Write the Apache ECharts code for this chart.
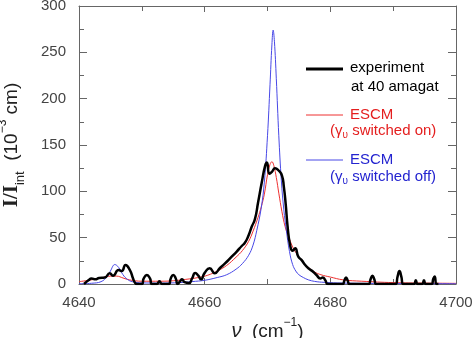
<!DOCTYPE html>
<html>
<head>
<meta charset="utf-8">
<script src="https://cdn.jsdelivr.net/npm/echarts@6/dist/echarts.min.js"></script>
<style>
html,body{margin:0;padding:0;background:#fff;}
#c{width:474px;height:338px;}
</style>
</head>
<body>
<div id="c"></div>
<script>
// ---- data ----
const xTicks = [4640, 4660, 4680, 4700];
const yTicks = [0, 50, 100, 150, 200, 250, 300];

const expNu = [4640.8,4641.5,4642.0,4642.6,4643.2,4644.1,4644.9,4645.4,4646.3,4646.8,4647.4,4648.1,4648.6,4648.9,4649.2,
  4650.0,4650.3,4650.8,4651.3,4651.6,4652.4,4652.8,4653.2,4654.3,4654.6,4655.0,4655.4,4655.7,4656.1,4656.4,4656.8,
  4657.5,4658.0,4658.5,4659.0,4659.4,4660.0,4660.8,4661.6,4662.4,4663.2,4664.3,4665.1,4665.9,4666.4,4666.9,4667.5,
  4668.0,4668.5,4669.1,4669.6,4669.9,4670.3,4670.7,4671.2,4671.7,4672.3,4672.6,4672.9,4673.2,4673.6,4674.0,4674.4,
  4674.9,4675.4,4676.0,4676.5,4677.3,4677.8,4678.4,4678.8,4679.2,4679.6,4682.0,4682.2,4682.5,4682.8,4683.0,4686.1,
  4686.4,4686.7,4687.0,4687.3,4690.4,4690.7,4691.0,4691.3,4691.6,4693.3,4693.6,4693.9,4694.6,4694.9,4695.2,4696.1,
  4696.4,4696.6,4696.9,4697.2];
const expI = [0,4,6,5,6.5,7,11.5,9,15,14,20.5,15,6,1.5,0,
  0,6,9.7,6,0,0,3,0,0,6,9.7,6,0,3,5,2,
  1,6,12,9,5,12,17,11.5,17,22,29.5,35,41,44.5,51,62,
  70,88,110,127,131,119,121,125,123,117,105,86,62,42,36,38.5,
  29.5,26,20.5,17,13,9.7,6,7,4,0,0,3,7,3,0,0,
  5,9,5,0,0,8,14,8,0,0,4,0,0,4,0,0,
  6,8,0,0];

const redNu = [4640,4642,4643.5,4645,4646,4647,4648,4650,4653,4655,4657,4659,4660.5,4662,4663.5,4665,4666,4667,
  4667.7,4668.5,4669,4669.5,4670,4670.4,4670.7,4671,4671.4,4671.8,4672.3,4672.8,4673.3,4674,4674.5,4675.5,4676.5,
  4677.5,4678.5,4680,4682,4685,4690,4695,4700];
const redI = [2.5,4.5,6.5,8.5,8.5,6.5,4.5,3,3,3.5,5,7,9.5,14,20,29,36,46,
  57,72,83,97,118,129,132,128,115,98,78,62,52,40,34,25,18,
  13,10,7.5,4.5,3,1.5,1,0.7];

const blueNu = [4640,4642,4643.5,4644.5,4645,4645.7,4646.3,4647,4647.7,4648.5,4650,4653,4656,4658,4660,4662,4663.5,
  4665,4666,4667,4667.7,4668.3,4669,4669.5,4670,4670.4,4670.7,4670.9,4671.1,4671.4,4671.8,4672.2,4672.6,4673,
  4673.5,4674,4674.5,4675,4675.7,4676.5,4677.5,4679,4682,4690,4700];
const blueI = [0.3,0.8,2.5,8,14,21,18,10,5,2.5,1.2,1.0,1.5,2.6,4,7,10,
  16,22,31,42,58,82,110,160,215,258,274,262,222,160,112,80,58,
  35,21,14,10,7,4.5,2.8,1.8,1.0,0.5,0.3];

const zip = (a, b) => a.map((v, i) => [v, b[i]]);

const AX = '#666';
const FONT = '"Liberation Sans", Arial, sans-serif';
const chart = echarts.init(document.getElementById('c'), null, {renderer: 'canvas'});

function xAx(pos, labels) {
  return {
    type: 'value', position: pos, min: xTicks[0], max: xTicks[xTicks.length - 1],
    interval: xTicks[1] - xTicks[0],
    axisLine: {show: true, onZero: false, lineStyle: {color: AX, width: 1}},
    axisTick: {show: true, inside: true, length: 6, lineStyle: {color: AX}},
    minorTick: {show: true, splitNumber: 2, length: 5, lineStyle: {color: AX}},
    splitLine: {show: false},
    axisLabel: {show: labels, color: '#444', fontSize: 15, fontFamily: FONT, margin: 11,
                formatter: (v) => String(v)},
    name: labels ? '{v|ν}{n|  (cm}{s|−1}{n|)}' : '',
    nameLocation: 'middle', nameGap: 33,
    nameTextStyle: {
      color: '#222', fontFamily: FONT,
      rich: {
        v: {fontSize: 20, fontStyle: 'italic', fontFamily: FONT, color: '#222', lineHeight: 24, verticalAlign: 'bottom'},
        n: {fontSize: 19, fontFamily: FONT, color: '#222', lineHeight: 24, verticalAlign: 'bottom'},
        s: {fontSize: 12, fontFamily: FONT, color: '#222', lineHeight: 24, verticalAlign: 'top'}
      }
    }
  };
}
function yAx(pos, labels) {
  return {
    type: 'value', position: pos, min: yTicks[0], max: yTicks[yTicks.length - 1],
    interval: yTicks[1] - yTicks[0],
    axisLine: {show: true, onZero: false, lineStyle: {color: AX, width: 1}},
    axisTick: {show: true, inside: true, length: 8, lineStyle: {color: AX}},
    minorTick: {show: true, splitNumber: 2, length: 5, lineStyle: {color: AX}},
    splitLine: {show: false},
    axisLabel: {show: labels, color: '#444', fontSize: 15, fontFamily: FONT, margin: 13},
    name: labels ? '{b|I/I}{i|int}{n|  (10}{s|−3}{n| cm)}' : '',
    nameLocation: 'middle', nameGap: 52, nameRotate: 90,
    nameTextStyle: {
      color: '#222',
      rich: {
        b: {fontSize: 21, fontWeight: 'bold', fontFamily: '"Liberation Serif", "Times New Roman", serif', color: '#222', lineHeight: 30, verticalAlign: 'middle'},
        i: {fontSize: 13, fontFamily: FONT, color: '#222', lineHeight: 30, verticalAlign: 'bottom'},
        n: {fontSize: 19, fontFamily: FONT, color: '#222', lineHeight: 30, verticalAlign: 'middle'},
        s: {fontSize: 12, fontFamily: FONT, color: '#222', lineHeight: 30, verticalAlign: 'top'}
      }
    }
  };
}

const legendFont = {fontSize: 15, fontFamily: FONT};
const sub = (c) => ({fontSize: 15, fontFamily: FONT, fill: c});

chart.setOption({
  animation: false,
  backgroundColor: '#fff',
  grid: {left: 79, right: 18, top: 6, bottom: 54, containLabel: false, outerBoundsMode: 'none'},
  xAxis: [xAx('bottom', true), xAx('top', false)],
  yAxis: [yAx('left', true), yAx('right', false)],
  series: [
    {type: 'line', name: 'ESCM (γυ switched on)', data: zip(redNu, redI), showSymbol: false,
     smooth: 0.4, lineStyle: {color: '#ee3030', width: 1}, z: 2},
    {type: 'line', name: 'ESCM (γυ switched off)', data: zip(blueNu, blueI), showSymbol: false,
     smooth: 0.4, lineStyle: {color: '#4848e6', width: 1}, z: 3},
    {type: 'line', name: 'experiment at 40 amagat', data: zip(expNu, expI), showSymbol: false,
     smooth: 0.55, lineStyle: {color: '#000', width: 2.5}, z: 4}
  ],
  graphic: [
    {type: 'line', shape: {x1: 306, y1: 69, x2: 343, y2: 69}, style: {stroke: '#000', lineWidth: 3}},
    {type: 'text', left: 350, top: 60, style: Object.assign({text: 'experiment', fill: '#000'}, legendFont)},
    {type: 'text', left: 351, top: 79, style: Object.assign({text: 'at 40 amagat', fill: '#000'}, legendFont)},
    {type: 'line', shape: {x1: 306, y1: 115, x2: 343, y2: 115}, style: {stroke: '#ee3030', lineWidth: 1}},
    {type: 'text', left: 350, top: 107, style: Object.assign({text: 'ESCM', fill: '#e41e1e'}, legendFont)},
    {type: 'text', left: 330, top: 123, style: {
      text: '{n|(γ}{s|υ}{n| switched on)}', fill: '#e41e1e',
      rich: {n: Object.assign({lineHeight: 20, verticalAlign: 'middle'}, sub('#e41e1e')),
             s: {fontSize: 10, fontFamily: FONT, fill: '#e41e1e', lineHeight: 20, verticalAlign: 'bottom'}}}},
    {type: 'line', shape: {x1: 306, y1: 160, x2: 343, y2: 160}, style: {stroke: '#4848e6', lineWidth: 1}},
    {type: 'text', left: 350, top: 152, style: Object.assign({text: 'ESCM', fill: '#2424d0'}, legendFont)},
    {type: 'text', left: 330, top: 169, style: {
      text: '{n|(γ}{s|υ}{n| switched off)}', fill: '#2424d0',
      rich: {n: Object.assign({lineHeight: 20, verticalAlign: 'middle'}, sub('#2424d0')),
             s: {fontSize: 10, fontFamily: FONT, fill: '#2424d0', lineHeight: 20, verticalAlign: 'bottom'}}}}
  ]
});
</script>
</body>
</html>
